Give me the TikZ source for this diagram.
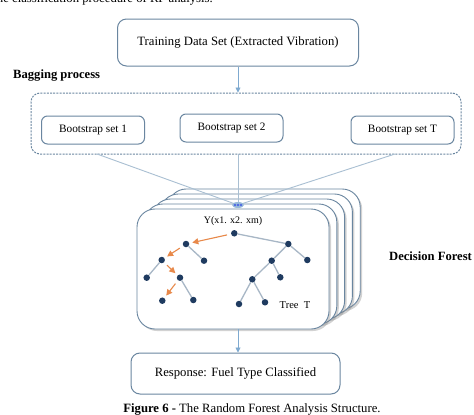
\documentclass[tikz,border=0pt]{standalone}
\usepackage{fontspec}
\setmainfont{Liberation Serif}
\usetikzlibrary{arrows.meta,shadows,calc,shapes.geometric}
\definecolor{boxcol}{HTML}{6A86A0}
\definecolor{arrcol}{HTML}{7FAAD0}
\definecolor{linecol}{HTML}{A9BFD2}
\definecolor{dotcol}{HTML}{1F3B60}
\definecolor{edgecol}{HTML}{A8B7C6}
\definecolor{orcol}{HTML}{E8894A}
\tikzset{
  boxnode/.style={draw=boxcol, line width=1pt, fill=white, rounded corners=9pt, inner sep=0pt},
  bootnode/.style={boxnode, rounded corners=6pt, minimum width=103pt, minimum height=28pt, font=\fontsize{11.3}{13}\selectfont},
  card/.style={draw=boxcol, line width=0.9pt, fill=white, rounded corners=18pt, minimum width=192pt, minimum height=120pt, inner sep=0pt,
     drop shadow={shadow xshift=2pt, shadow yshift=-2pt, opacity=0.35, fill=gray}},
  conn/.style={draw=arrcol, line width=0.9pt, -{Triangle[length=5pt,width=5pt]}},
  feed/.style={draw=linecol, line width=0.9pt},
  dot/.style={circle, fill=dotcol, inner sep=0pt, minimum size=6.5pt},
  tedge/.style={draw=edgecol, line width=1.3pt},
  oedge/.style={draw=orcol, line width=1.1pt, -{Triangle[length=6pt,width=6pt]}, shorten >=3pt, shorten <=4pt},
  bigtext/.style={font=\fontsize{12.7}{15}\selectfont}
}
\begin{document}
\begin{tikzpicture}[x=1pt,y=-1pt]
\useasboundingbox (0,0) rectangle (474,415);
\fill[white] (0,0) rectangle (474,415);

% clipped top caption line
\node[anchor=base east, bigtext, inner sep=0pt] (prev) at (213,2.5) {the classification procedure of RF analysis.};

% top box
\node[boxnode, minimum width=241pt, minimum height=47pt, bigtext] (train) at (238,42.5) {Training Data Set (Extracted Vibration)};

\node[anchor=west, font=\bfseries\fontsize{12.6}{15}\selectfont, inner sep=0pt] (bag) at (13,76) {Bagging process};

% dashed container
\node[draw=boxcol, line width=1pt, dash pattern=on 2pt off 1.2pt, rounded corners=9pt, minimum width=430pt, minimum height=61pt, inner sep=0pt] (cont) at (246,123.5) {};

\draw[conn] (train.south) -- (train.south |- cont.north);

\node[bootnode] (b1) at (93,130) {Bootstrap set 1};
\node[bootnode] (b2) at (231.5,128) {Bootstrap set 2};
\node[bootnode] (bT) at (402.5,130) {Bootstrap set T};

% stacked cards
\foreach \k in {4,3,2,1} {
  \node[card] (card\k) at ({233+7.8*\k},{269-5*\k}) {};
}
\node[card] (front) at (233,269) {};

% feeding lines
\coordinate (conv) at (238,205);
\coordinate (f1) at (97,154);
\coordinate (f2) at (238,154);
\coordinate (f3) at (395,154);
\draw[feed] (f1) -- (conv);
\draw[feed] (f2) -- (conv);
\draw[feed] (f3) -- (conv);
\node[ellipse, fill=arrcol!80, inner sep=0pt, minimum width=12pt, minimum height=6pt] (convmark) at (conv) {};
\foreach \dx in {-3,0,3} { \fill[arrcol!60!blue] ($(conv)+(\dx,0)$) circle (1.4pt); }

% tree
\node[font=\fontsize{10}{12}\selectfont, inner sep=0pt] (ylab) at (233,221.5) {Y(x1. x2. xm)};
\node[dot] (r) at (234.3,233.3) {};
\node[dot] (a) at (186,244) {};
\node[dot] (b) at (288.3,244) {};
\node[dot] (a1) at (161.7,260) {};
\node[dot] (a2) at (204,260.7) {};
\node[dot] (a11) at (146.7,277.7) {};
\node[dot] (a12) at (180,277.7) {};
\node[dot] (a121) at (162.3,300.7) {};
\node[dot] (a122) at (193.3,300) {};
\node[dot] (b1n) at (271.7,260.7) {};
\node[dot] (b2n) at (307.3,260) {};
\node[dot] (b11) at (252.3,279.3) {};
\node[dot] (b12) at (280.3,277.3) {};
\node[dot] (b111) at (239,304) {};
\node[dot] (b112) at (265,302.3) {};

\draw[tedge] (r) -- (b);
\draw[tedge] (a) -- (a2);
\draw[tedge] (a1) -- (a11);
\draw[tedge] (a12) -- (a122);
\draw[tedge] (b) -- (b1n);
\draw[tedge] (b) -- (b2n);
\draw[tedge] (b1n) -- (b11);
\draw[tedge] (b1n) -- (b12);
\draw[tedge] (b11) -- (b111);
\draw[tedge] (b11) -- (b112);
\draw[oedge] (r) -- (a);
\draw[oedge] (a) -- (a1);
\draw[oedge] (a1) -- (a12);
\draw[oedge] (a12) -- (a121);

\node[font=\fontsize{10.5}{12}\selectfont, inner sep=0pt] (treeT) at (295,305) {Tree\ \ T};

\node[anchor=west, font=\bfseries\fontsize{12.6}{15}\selectfont, inner sep=0pt] (df) at (389,256) {Decision Forest};

% response
\node[boxnode, minimum width=209pt, minimum height=41pt, bigtext] (resp) at (235.5,373.5) {Response: Fuel Type Classified};
\draw[conn] (front.south -| train.south) -- (resp.north -| train.south);

\node[bigtext, inner sep=0pt] (cap) at (252,409) {\textbf{Figure 6 -} The Random Forest Analysis Structure.};
\end{tikzpicture}
\end{document}
